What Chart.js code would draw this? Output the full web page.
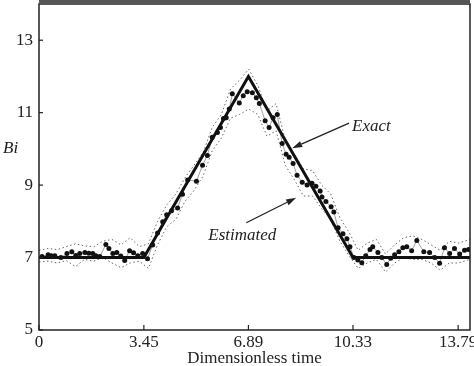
<!DOCTYPE html>
<html>
<head>
<meta charset="utf-8">
<script src="https://cdn.jsdelivr.net/npm/chart.js@4.4.1/dist/chart.umd.min.js"></script>
<style>
  html, body { margin: 0; padding: 0; background: #fff; }
  #wrap { width: 474px; height: 366px; }
</style>
</head>
<body>
<div id="wrap"><canvas id="biChart" width="474" height="366"></canvas></div>
<script>
// tick labels
const xTicks = [0, 3.45, 6.89, 10.33, 13.79];
const yTicks = [5, 7, 9, 11, 13];

// exact Bi profile (corners)
const exactT = [0, 3.45, 6.89, 10.33, 14.18];
const exactV = [7, 7, 12, 7, 7];

// estimated Bi
const estT = [0.1, 0.30, 0.40, 0.52, 0.72, 0.92, 1.08, 1.21, 1.34, 1.51, 1.64, 1.77, 1.87, 2.0, 2.2, 2.3, 2.43, 2.56, 2.69, 2.82, 2.98, 3.11, 3.25, 3.41, 3.57,
  3.74, 3.90, 4.07, 4.20, 4.36, 4.56, 4.72, 4.89, 5.18, 5.38, 5.54, 5.70, 5.87, 5.97, 6.07, 6.16, 6.26, 6.36, 6.59, 6.72, 6.85,
  7.02, 7.15, 7.25, 7.44, 7.57, 7.70, 7.84, 8.0, 8.13, 8.23, 8.36, 8.49, 8.66, 8.82, 8.98, 9.11, 9.25, 9.31, 9.44, 9.61, 9.70, 9.84, 10.0, 10.13, 10.23, 10.36,
  10.49, 10.62, 10.75, 10.89, 10.98, 11.15, 11.28, 11.44, 11.57, 11.70, 11.84, 11.97, 12.10, 12.26, 12.43, 12.66, 12.85, 13.02, 13.18, 13.34, 13.51, 13.67, 13.84, 14.0, 14.13];
const estV = [7.03, 7.08, 7.05, 7.05, 7.0, 7.11, 7.16, 7.06, 7.11, 7.14, 7.12, 7.11, 7.05, 7.03, 7.36, 7.25, 7.11, 7.14, 7.04, 6.92, 7.19, 7.13, 7.05, 7.11, 6.97,
  7.35, 7.68, 7.99, 8.18, 8.29, 8.37, 8.75, 9.14, 9.11, 9.55, 9.82, 10.32, 10.45, 10.59, 10.84, 10.86, 11.1, 11.52, 11.27, 11.47, 11.58,
  11.55, 11.41, 11.25, 10.78, 10.59, 10.86, 10.95, 10.15, 9.85, 9.77, 9.6, 9.27, 9.08, 9.0, 9.05, 8.97, 8.84, 8.67, 8.55, 8.40, 8.26, 7.82, 7.66, 7.52, 7.3, 7.0,
  6.93, 6.86, 7.05, 7.22, 7.30, 7.14, 7.0, 6.81, 6.98, 7.08, 7.16, 7.27, 7.30, 7.19, 7.47, 7.16, 7.14, 7.0, 6.84, 7.27, 7.11, 7.25, 7.1, 7.2, 7.22];

// dotted confidence bounds
const bandT = [0, 0.3, 0.6, 0.9, 1.2, 1.5, 1.8, 2.1, 2.4, 2.7, 3.0, 3.3, 3.6, 3.9, 4.2, 4.5, 4.8, 5.1, 5.4, 5.7, 6.0, 6.3, 6.6, 6.9,
  7.2, 7.5, 7.8, 8.1, 8.4, 8.7, 9.0, 9.3, 9.6, 9.9, 10.2, 10.5, 10.8, 11.1, 11.4, 11.7, 12.0, 12.3, 12.6, 12.9, 13.2, 13.5, 13.8, 14.18];
const bandUpper = [7.2, 7.25, 7.22, 7.3, 7.38, 7.32, 7.3, 7.45, 7.5, 7.35, 7.55, 7.3, 7.38, 8.0, 8.45, 8.75, 9.2, 9.55, 9.9, 10.6, 10.95, 11.65, 11.9, 12.2,
  11.75, 11.05, 11.25, 10.25, 9.85, 9.45, 9.4, 9.0, 8.75, 8.1, 7.7, 7.2, 7.4, 7.5, 7.1, 7.35, 7.55, 7.6, 7.5, 7.35, 7.2, 7.45, 7.4, 7.5];
const bandLower = [6.88, 6.9, 6.85, 6.92, 6.75, 6.95, 6.9, 7.0, 6.85, 6.72, 6.85, 6.9, 6.7, 7.35, 7.85, 8.05, 8.55, 8.85, 9.25, 9.95, 10.3, 10.85, 10.95, 11.1,
  10.95, 10.35, 10.5, 9.55, 9.15, 8.7, 8.7, 8.35, 8.05, 7.45, 7.05, 6.7, 6.85, 6.95, 6.6, 6.85, 7.0, 6.95, 6.95, 6.85, 6.65, 6.85, 6.85, 6.95];

// annotation anchors, in data units
const exactLabel = { text: 'Exact', t: 10.3, v: 10.63, from: [10.2, 10.71], to: [8.33, 10.02] };
const estLabel = { text: 'Estimated', t: 6.69, v: 7.61, from: [6.82, 7.96], to: [8.46, 8.65] };

const SERIF = '"Liberation Serif", "Times New Roman", serif';
const pairs = (xs, ys) => xs.map((x, i) => ({ x: x, y: ys[i] }));

function arrow(ctx, x1, y1, x2, y2) {
    const a = Math.atan2(y2 - y1, x2 - x1);
    const len = 10, half = 3.2;
    const bx = x2 - Math.cos(a) * len, by = y2 - Math.sin(a) * len;
    ctx.beginPath();
    ctx.moveTo(x1, y1);
    ctx.lineTo(bx, by);
    ctx.stroke();
    ctx.beginPath();
    ctx.moveTo(x2, y2);
    ctx.lineTo(bx - Math.sin(a) * half, by + Math.cos(a) * half);
    ctx.lineTo(bx + Math.sin(a) * half, by - Math.cos(a) * half);
    ctx.closePath();
    ctx.fill();
}

// frame, inward ticks, labels and arrows
const decorPlugin = {
    id: 'decor',
    afterDraw(chart) {
        const { ctx, chartArea: ca, scales: { x, y } } = chart;
        ctx.save();
        ctx.strokeStyle = '#222';
        ctx.fillStyle = '#222';
        ctx.lineWidth = 1.5;
        ctx.strokeRect(ca.left, ca.top, ca.right - ca.left, ca.bottom - ca.top);
        ctx.strokeStyle = '#555';
        ctx.lineWidth = 3;
        ctx.beginPath();
        ctx.moveTo(ca.left, 1.5);
        ctx.lineTo(ca.right, 1.5);
        ctx.stroke();

        ctx.strokeStyle = '#222';
        ctx.lineWidth = 1.2;
        xTicks.forEach(t => {
            const px = x.getPixelForValue(t);
            ctx.beginPath();
            ctx.moveTo(px, ca.bottom);
            ctx.lineTo(px, ca.bottom - 5);
            ctx.stroke();
        });
        yTicks.forEach(v => {
            const py = y.getPixelForValue(v);
            ctx.beginPath();
            ctx.moveTo(ca.left, py);
            ctx.lineTo(ca.left + 4, py);
            ctx.stroke();
        });

        ctx.font = 'italic 17px ' + SERIF;
        ctx.textBaseline = 'middle';
        ctx.textAlign = 'left';
        ctx.fillText('Bi', y.left + 3, y.getPixelForValue(10));

        ctx.fillText(exactLabel.text, x.getPixelForValue(exactLabel.t), y.getPixelForValue(exactLabel.v));
        ctx.textAlign = 'center';
        ctx.fillText(estLabel.text, x.getPixelForValue(estLabel.t), y.getPixelForValue(estLabel.v));

        ctx.lineWidth = 1.3;
        [exactLabel, estLabel].forEach(l => {
            arrow(ctx, x.getPixelForValue(l.from[0]), y.getPixelForValue(l.from[1]),
                       x.getPixelForValue(l.to[0]), y.getPixelForValue(l.to[1]));
        });
        ctx.restore();
    }
};

document.addEventListener('DOMContentLoaded', () => {
    const ctx = document.getElementById('biChart').getContext('2d');
    new Chart(ctx, {
        type: 'scatter',
        data: {
            datasets: [
                {
                    label: 'Exact',
                    data: pairs(exactT, exactV),
                    showLine: true,
                    borderColor: '#111',
                    borderWidth: 3,
                    pointRadius: 0,
                    order: 1
                },
                {
                    label: 'Estimated',
                    data: pairs(estT, estV),
                    showLine: true,
                    borderColor: '#888',
                    borderWidth: 0.8,
                    pointRadius: 2.5,
                    pointBackgroundColor: '#111',
                    pointBorderColor: '#111',
                    pointBorderWidth: 0,
                    order: 2
                },
                {
                    label: 'Upper',
                    data: pairs(bandT, bandUpper),
                    showLine: true,
                    borderColor: '#666',
                    borderWidth: 1,
                    borderDash: [1.5, 2.5],
                    pointRadius: 0,
                    order: 3
                },
                {
                    label: 'Lower',
                    data: pairs(bandT, bandLower),
                    showLine: true,
                    borderColor: '#666',
                    borderWidth: 1,
                    borderDash: [1.5, 2.5],
                    pointRadius: 0,
                    order: 3
                }
            ]
        },
        options: {
            responsive: false,
            animation: false,
            layout: { padding: { left: 0, right: 4, top: 2, bottom: 0 } },
            plugins: { legend: { display: false }, tooltip: { enabled: false } },
            scales: {
                x: {
                    type: 'linear',
                    min: 0,
                    max: 14.18,
                    grid: { display: false, drawTicks: false },
                    border: { display: false },
                    afterBuildTicks: s => { s.ticks = xTicks.map(v => ({ value: v })); },
                    afterFit: s => { s.height = 36; s.paddingLeft = 0; s.paddingRight = 0; },
                    ticks: {
                        autoSkip: false,
                        maxRotation: 0,
                        padding: 2,
                        color: '#222',
                        font: { family: SERIF, size: 17 },
                        callback: v => String(v)
                    },
                    title: {
                        display: true,
                        text: 'Dimensionless time',
                        color: '#222',
                        font: { family: SERIF, size: 17 },
                        padding: { top: 0, bottom: -3 }
                    }
                },
                y: {
                    type: 'linear',
                    min: 5,
                    max: 14,
                    grid: { display: false, drawTicks: false },
                    border: { display: false },
                    afterBuildTicks: s => { s.ticks = yTicks.map(v => ({ value: v })); },
                    afterFit: s => { s.width = 39; s.paddingTop = 0; s.paddingBottom = 0; },
                    ticks: {
                        padding: 6,
                        color: '#222',
                        font: { family: SERIF, size: 17 },
                        callback: v => String(v)
                    }
                }
            }
        },
        plugins: [decorPlugin]
    });
});
</script>
</body>
</html>
